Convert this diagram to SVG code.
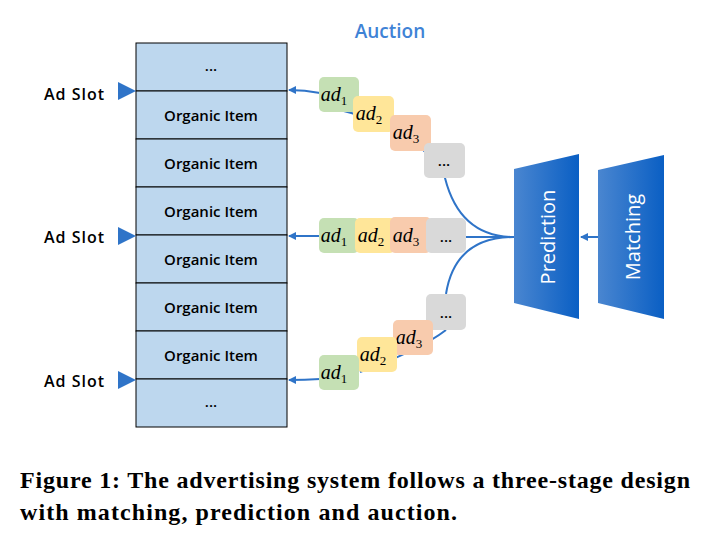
<svg xmlns="http://www.w3.org/2000/svg" width="706" height="546" viewBox="0 0 706 546">
<style>
.row{fill:#bdd7ee;stroke:#000;stroke-width:1}
.t{font-family:"Open Sans","Liberation Sans",sans-serif;font-size:15px;font-weight:600;fill:#000;text-anchor:middle}
.s{font-family:"Open Sans","Liberation Sans",sans-serif;font-size:16px;font-weight:600;fill:#000}
.ad{font-family:"Liberation Serif",serif;font-style:italic;font-size:20px;fill:#000;text-anchor:middle}
.sub{font-size:13px;font-style:normal}
.c{fill:none;stroke:#2f74c8;stroke-width:2}
.cap{font-family:"Liberation Serif",serif;font-weight:bold;font-size:24px;fill:#000}
</style>
<defs>
<marker id="ah" markerWidth="8" markerHeight="8" refX="7" refY="4" orient="auto" markerUnits="userSpaceOnUse"><path d="M0,0L8,4L0,8z" fill="#2f74c8"/></marker>
<linearGradient id="g" x1="0" x2="1"><stop offset="0" stop-color="#4a86d0"/><stop offset="1" stop-color="#0a5fc4"/></linearGradient>
</defs>
<text x="390" y="38" font-family="Open Sans,Liberation Sans,sans-serif" font-size="19" font-weight="600" fill="#3f83d6" text-anchor="middle">Auction</text>
<g id="table">
<rect class="row" x="136" y="43" width="151" height="48"/><text class="t" x="211" y="71">...</text>
<rect class="row" x="136" y="91" width="151" height="48"/><text class="t" x="211" y="121">Organic Item</text>
<rect class="row" x="136" y="139" width="151" height="48"/><text class="t" x="211" y="169">Organic Item</text>
<rect class="row" x="136" y="187" width="151" height="48"/><text class="t" x="211" y="217">Organic Item</text>
<rect class="row" x="136" y="235" width="151" height="48"/><text class="t" x="211" y="265">Organic Item</text>
<rect class="row" x="136" y="283" width="151" height="48"/><text class="t" x="211" y="313">Organic Item</text>
<rect class="row" x="136" y="331" width="151" height="48"/><text class="t" x="211" y="361">Organic Item</text>
<rect class="row" x="136" y="379" width="151" height="48"/><text class="t" x="211" y="407">...</text>
</g>
<g id="slots" fill="#2f74c8">
<path d="M118,82L136,91L118,100z"/><text class="s" x="44" y="100" textLength="60">Ad Slot</text>
<path d="M118,227L136,236L118,245z"/><text class="s" x="44" y="243" textLength="60">Ad Slot</text>
<path d="M118,371L136,380L118,389z"/><text class="s" x="44" y="387" textLength="60">Ad Slot</text>
</g>
<g id="connectors">
<path class="c" d="M320,93Q305,90 289,90" marker-end="url(#ah)"/>
<path class="c" d="M320,236L289,236" marker-end="url(#ah)"/>
<path class="c" d="M320,379Q305,380 289,380" marker-end="url(#ah)"/>
<path class="c" d="M340,110Q420,130 445,178Q460,237 514,237"/>
<path class="c" d="M466,237L514,237"/>
<path class="c" d="M446,294Q455,237 514,237"/>
<path class="c" d="M360,372Q420,350 446,330"/>
<path class="c" d="M598,237L581,237" marker-end="url(#ah)"/>
</g>
<g id="ads">
<rect x="319" y="77" width="40" height="35" rx="5" fill="#c5e0b4"/><text class="ad" x="334" y="101">ad<tspan class="sub" dy="4">1</tspan></text>
<rect x="353" y="96" width="41" height="36" rx="5" fill="#ffe699"/><text class="ad" x="369" y="120">ad<tspan class="sub" dy="4">2</tspan></text>
<rect x="390" y="115" width="41" height="36" rx="5" fill="#f8cbad"/><text class="ad" x="406" y="139">ad<tspan class="sub" dy="4">3</tspan></text>
<rect x="424" y="143" width="41" height="35" rx="5" fill="#d9d9d9"/><text class="t" x="444" y="166">...</text>
<rect x="319" y="218" width="40" height="35" rx="5" fill="#c5e0b4"/><text class="ad" x="334" y="242">ad<tspan class="sub" dy="4">1</tspan></text>
<rect x="355" y="218" width="40" height="35" rx="5" fill="#ffe699"/><text class="ad" x="371" y="242">ad<tspan class="sub" dy="4">2</tspan></text>
<rect x="390" y="217" width="41" height="36" rx="5" fill="#f8cbad"/><text class="ad" x="406" y="242">ad<tspan class="sub" dy="4">3</tspan></text>
<rect x="426" y="218" width="40" height="35" rx="5" fill="#d9d9d9"/><text class="t" x="446" y="242">...</text>
<rect x="426" y="294" width="40" height="36" rx="5" fill="#d9d9d9"/><text class="t" x="446" y="318">...</text>
<rect x="393" y="320" width="40" height="35" rx="5" fill="#f8cbad"/><text class="ad" x="409" y="344">ad<tspan class="sub" dy="4">3</tspan></text>
<rect x="357" y="337" width="40" height="35" rx="5" fill="#ffe699"/><text class="ad" x="373" y="361">ad<tspan class="sub" dy="4">2</tspan></text>
<rect x="319" y="355" width="40" height="35" rx="5" fill="#c5e0b4"/><text class="ad" x="334" y="379">ad<tspan class="sub" dy="4">1</tspan></text>
</g>
<g id="prediction">
<path d="M514,169L579,154L579,319L514,303z" fill="url(#g)"/>
<text transform="translate(555,237) rotate(-90)" font-family="Open Sans,Liberation Sans,sans-serif" font-size="20" fill="#fff" text-anchor="middle">Prediction</text>
</g>
<g id="matching">
<path d="M598,170L664,155L664,319L598,303z" fill="url(#g)"/>
<text transform="translate(640,237) rotate(-90)" font-family="Open Sans,Liberation Sans,sans-serif" font-size="20" fill="#fff" text-anchor="middle">Matching</text>
</g>
<text class="cap" x="20" y="488" textLength="670">Figure 1: The advertising system follows a three-stage design</text>
<text class="cap" x="20" y="520" textLength="437">with matching, prediction and auction.</text>
</svg>
